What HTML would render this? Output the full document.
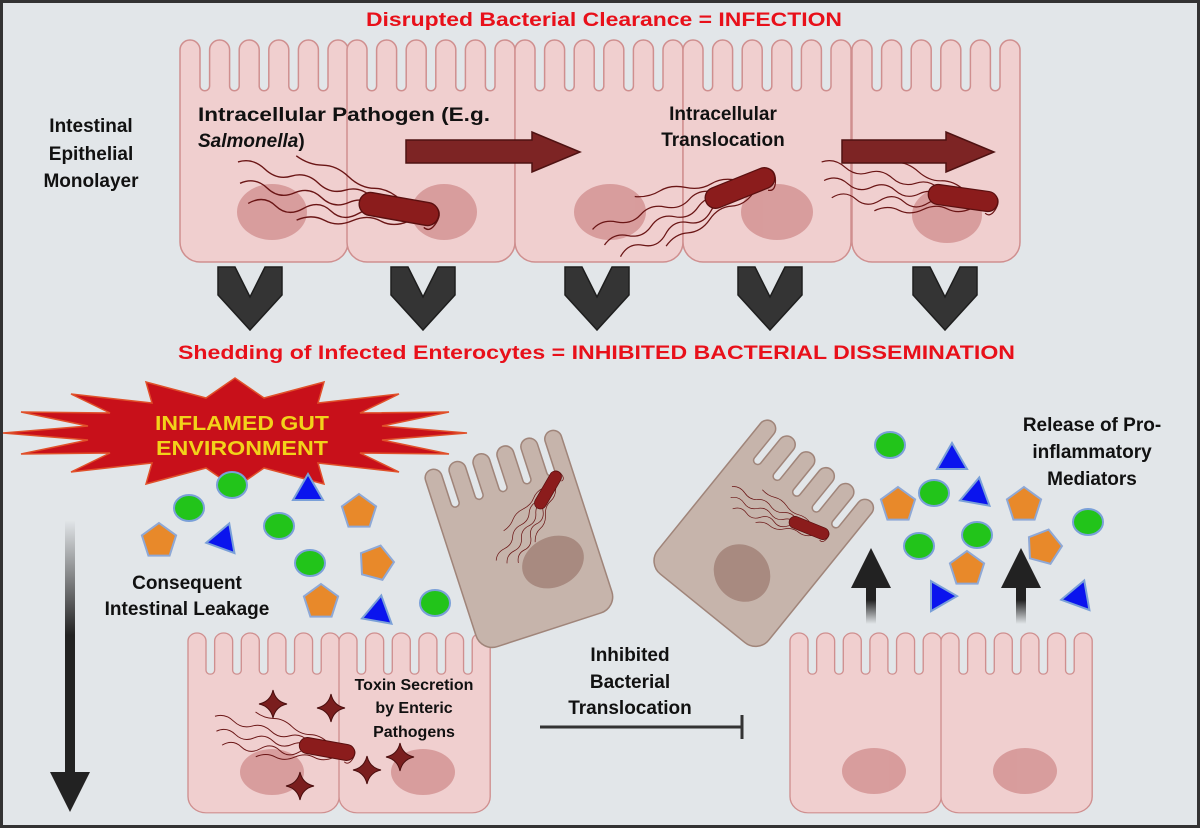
<!DOCTYPE html>
<html><head><meta charset="utf-8"><style>
html,body{margin:0;padding:0;background:#e2e6e9}
svg{display:block}
text{font-family:"Liberation Sans",Arial,sans-serif;font-weight:bold}
</style></head><body>
<svg width="1200" height="828" viewBox="0 0 1200 828" xmlns="http://www.w3.org/2000/svg">
<defs>
<path id="cellp" d="M0,202 L0,10 A10,10 0 0 1 20,10 L20,46 A4.8,4.8 0 0 0 29.6,46 L29.6,10 A10,10 0 0 1 49.6,10 L49.6,46 A4.8,4.8 0 0 0 59.2,46 L59.2,10 A10,10 0 0 1 79.2,10 L79.2,46 A4.8,4.8 0 0 0 88.8,46 L88.8,10 A10,10 0 0 1 108.8,10 L108.8,46 A4.8,4.8 0 0 0 118.4,46 L118.4,10 A10,10 0 0 1 138.4,10 L138.4,46 A4.8,4.8 0 0 0 148,46 L148,10 A10,10 0 0 1 168,10 L168,202 A20,20 0 0 1 148,222 L20,222 A20,20 0 0 1 0,202 Z"/>
<g id="bac">
<g fill="none" stroke="#6a1515" stroke-width="1.2">
<path d="M-25,-6 q-12,-8 -24,-2 t-24,-2 t-24,-2 t-24,-2 t-24,-2"/>
<path d="M-20,2 q-12,-8 -24,0 t-24,0 t-24,0 t-24,0 t-24,0"/>
<path d="M-10,8 q-12,-8 -24,2 t-24,2 t-24,2 t-24,2 t-24,2"/>
<path d="M0,-8 q-12,-8 -24,-6 t-24,-6 t-24,-6 t-24,-4"/>
<path d="M10,9 q-12,8 -24,4 t-24,4 t-24,4 t-24,4"/>
<path d="M30,-8 q8,4 4,14 t-10,6"/>
</g>
<rect x="-35" y="-10" width="70" height="20" rx="10" fill="#8b1c1c" stroke="#5a0f0f" stroke-width="1.2"/>
</g>
<path id="chev" d="M-32,0 L-15,0 L0,30 L15,0 L32,0 L32,28 L0,63 L-32,28 Z" fill="#343434" stroke="#1e1e1e" stroke-width="1.5"/>
<polygon id="pent" points="0,-18 17.1,-5.6 10.6,14.6 -10.6,14.6 -17.1,-5.6" fill="#e8892a" stroke="#8ea8d6" stroke-width="2"/>
<polygon id="tri" points="0,-16 15,10 -15,10" fill="#0a14ee" stroke="#7aa0d8" stroke-width="2"/>
<ellipse id="circ" rx="15" ry="13" fill="#22c41a" stroke="#7aa0d8" stroke-width="2"/>
<path id="star" d="M0,-14 Q2.5,-2.5 14,0 Q2.5,2.5 0,14 Q-2.5,2.5 -14,0 Q-2.5,-2.5 0,-14Z" fill="#7a1e1e" stroke="#4a0e0e" stroke-width="1"/>
<linearGradient id="gdown" x1="0" y1="0" x2="0" y2="1"><stop offset="0" stop-color="#222" stop-opacity="0"/><stop offset="0.45" stop-color="#222"/><stop offset="1" stop-color="#222"/></linearGradient>
<linearGradient id="gup" x1="0" y1="1" x2="0" y2="0"><stop offset="0" stop-color="#222" stop-opacity="0"/><stop offset="0.6" stop-color="#222"/><stop offset="1" stop-color="#222"/></linearGradient>
</defs>
<rect x="1.5" y="1.5" width="1197" height="825" fill="#e2e6e9" stroke="#333" stroke-width="3"/>

<!-- top row cells -->
<g fill="#f0cfcf" stroke="#cf8f8f" stroke-width="1.5">
<use href="#cellp" transform="translate(180,40)"/>
<use href="#cellp" transform="translate(347,40)"/>
<use href="#cellp" transform="translate(515,40)"/>
<use href="#cellp" transform="translate(683,40)"/>
<use href="#cellp" transform="translate(852,40)"/>
</g>
<g fill="#d49494" opacity="0.85">
<ellipse cx="272" cy="212" rx="35" ry="28"/>
<ellipse cx="444" cy="212" rx="33" ry="28"/>
<ellipse cx="610" cy="212" rx="36" ry="28"/>
<ellipse cx="777" cy="212" rx="36" ry="28"/>
<ellipse cx="947" cy="215" rx="35" ry="28"/>
</g>
<use href="#bac" transform="translate(399,209) rotate(10) scale(1.15)"/>
<use href="#bac" transform="translate(740,188) rotate(-22) scale(1.05)"/>
<use href="#bac" transform="translate(963,198) rotate(8) scale(1.0)"/>

<!-- red arrows -->
<polygon points="406,140 532,140 532,132 580,152 532,172 532,163 406,163" fill="#7d2424" stroke="#4e1212" stroke-width="1.5"/>
<polygon points="842,140 946,140 946,132 994,152 946,172 946,163 842,163" fill="#7d2424" stroke="#4e1212" stroke-width="1.5"/>

<!-- chevrons -->
<use href="#chev" transform="translate(250,267)"/>
<use href="#chev" transform="translate(423,267)"/>
<use href="#chev" transform="translate(597,267)"/>
<use href="#chev" transform="translate(770,267)"/>
<use href="#chev" transform="translate(945,267)"/>

<!-- top texts -->
<text x="366" y="26" font-size="19" fill="#e8101a" textLength="476" lengthAdjust="spacingAndGlyphs">Disrupted Bacterial Clearance = INFECTION</text>
<text x="178" y="359" font-size="19" fill="#e8101a" textLength="837" lengthAdjust="spacingAndGlyphs">Shedding of Infected Enterocytes = INHIBITED BACTERIAL DISSEMINATION</text>
<g font-size="19" fill="#111" text-anchor="middle">
<text x="91" y="132">Intestinal</text>
<text x="91" y="160">Epithelial</text>
<text x="91" y="187">Monolayer</text>
<text x="723" y="120">Intracellular</text>
<text x="723" y="146">Translocation</text>
</g>
<text x="198" y="121" font-size="19" fill="#111" textLength="292" lengthAdjust="spacingAndGlyphs">Intracellular Pathogen (E.g.</text>
<text x="198" y="147" font-size="19" fill="#111"><tspan font-style="italic">Salmonella</tspan>)</text>

<!-- starburst -->
<polygon points="467,433 382,440 449,454 360,453 399,472 318,463 324,484 264,468 235,488 206,468 146,484 152,463 71,472 110,453 21,454 88,440 3,433 88,426 21,412 110,413 71,394 152,403 146,382 206,398 235,378 264,398 324,382 318,403 399,394 360,413 449,412 382,426" fill="#c8101a" stroke="#e0502a" stroke-width="1.5"/>
<text x="242" y="430" font-size="20" fill="#f2d21a" text-anchor="middle" textLength="174" lengthAdjust="spacingAndGlyphs">INFLAMED GUT</text>
<text x="242" y="455" font-size="20" fill="#f2d21a" text-anchor="middle" textLength="172" lengthAdjust="spacingAndGlyphs">ENVIRONMENT</text>

<!-- gradient down arrow -->
<rect x="65" y="520" width="10" height="256" fill="url(#gdown)"/>
<polygon points="50,772 90,772 70,812" fill="#222"/>

<!-- left mediators -->
<use href="#circ" transform="translate(232,485)"/>
<use href="#circ" transform="translate(189,508)"/>
<use href="#circ" transform="translate(279,526)"/>
<use href="#circ" transform="translate(310,563)"/>
<use href="#circ" transform="translate(435,603)"/>
<use href="#tri" transform="translate(308,490)"/>
<use href="#tri" transform="translate(222,540) rotate(-100)"/>
<use href="#tri" transform="translate(377,613) rotate(-110)"/>
<use href="#pent" transform="translate(359,512)"/>
<use href="#pent" transform="translate(159,541)"/>
<use href="#pent" transform="translate(376,563) rotate(15)"/>
<use href="#pent" transform="translate(321,602)"/>

<g font-size="19" fill="#111" text-anchor="middle">
<text x="187" y="589">Consequent</text>
<text x="187" y="615">Intestinal Leakage</text>
</g>

<!-- bottom-left cells -->
<g fill="#f0cfcf" stroke="#cf8f8f" stroke-width="1.5">
<use href="#cellp" transform="translate(188,633) scale(0.9,0.81)"/>
<use href="#cellp" transform="translate(339,633) scale(0.9,0.81)"/>
</g>
<g fill="#d49494" opacity="0.85">
<ellipse cx="272" cy="772" rx="32" ry="23"/>
<ellipse cx="423" cy="772" rx="32" ry="23"/>
</g>
<use href="#bac" transform="translate(327,749) rotate(10) scale(0.8)"/>
<use href="#star" transform="translate(273,704)"/>
<use href="#star" transform="translate(331,708)"/>
<use href="#star" transform="translate(300,786)"/>
<use href="#star" transform="translate(367,770)"/>
<use href="#star" transform="translate(400,757)"/>
<g font-size="16" fill="#111" text-anchor="middle">
<text x="414" y="690">Toxin Secretion</text>
<text x="414" y="713">by Enteric</text>
<text x="414" y="737">Pathogens</text>
</g>

<!-- shed tan cells -->
<g fill="#c6b4ab" stroke="#a0857a" stroke-width="1.8">
<use href="#cellp" transform="translate(520,540) rotate(-18) scale(0.85) translate(-84,-111)"/>
<use href="#cellp" transform="translate(762,535) rotate(39) scale(0.85) translate(-84,-111)"/>
</g>
<ellipse cx="553" cy="562" rx="32" ry="25" transform="rotate(-25 553 562)" fill="#a88a80"/>
<ellipse cx="742" cy="573" rx="30" ry="27" transform="rotate(50 742 573)" fill="#a88a80"/>
<use href="#bac" transform="translate(548,490) rotate(-60) scale(0.6)"/>
<use href="#bac" transform="translate(809,528) rotate(22) scale(0.6)"/>

<!-- inhibitor -->
<line x1="540" y1="727" x2="742" y2="727" stroke="#333" stroke-width="3"/>
<line x1="742" y1="715" x2="742" y2="739" stroke="#333" stroke-width="3"/>
<g font-size="19" fill="#111" text-anchor="middle">
<text x="630" y="661">Inhibited</text>
<text x="630" y="688">Bacterial</text>
<text x="630" y="714">Translocation</text>
</g>

<!-- bottom-right cells -->
<g fill="#f0cfcf" stroke="#cf8f8f" stroke-width="1.5">
<use href="#cellp" transform="translate(790,633) scale(0.9,0.81)"/>
<use href="#cellp" transform="translate(941,633) scale(0.9,0.81)"/>
</g>
<g fill="#d49494" opacity="0.85">
<ellipse cx="874" cy="771" rx="32" ry="23"/>
<ellipse cx="1025" cy="771" rx="32" ry="23"/>
</g>

<!-- up arrows -->
<rect x="866" y="584" width="10" height="40" fill="url(#gup)"/>
<polygon points="851,588 891,588 871,548" fill="#222"/>
<rect x="1016" y="584" width="10" height="40" fill="url(#gup)"/>
<polygon points="1001,588 1041,588 1021,548" fill="#222"/>

<!-- right mediators -->
<use href="#circ" transform="translate(890,445)"/>
<use href="#circ" transform="translate(934,493)"/>
<use href="#circ" transform="translate(977,535)"/>
<use href="#circ" transform="translate(919,546)"/>
<use href="#circ" transform="translate(1088,522)"/>
<use href="#tri" transform="translate(952,459)"/>
<use href="#tri" transform="translate(975,495) rotate(-110)"/>
<use href="#tri" transform="translate(939,595) rotate(-30)"/>
<use href="#tri" transform="translate(1077,597) rotate(-100)"/>
<use href="#pent" transform="translate(898,505)"/>
<use href="#pent" transform="translate(1024,505)"/>
<use href="#pent" transform="translate(1044,547) rotate(15)"/>
<use href="#pent" transform="translate(967,569)"/>

<g font-size="19" fill="#111" text-anchor="middle">
<text x="1092" y="431">Release of Pro-</text>
<text x="1092" y="458">inflammatory</text>
<text x="1092" y="485">Mediators</text>
</g>
</svg>
</body></html>
